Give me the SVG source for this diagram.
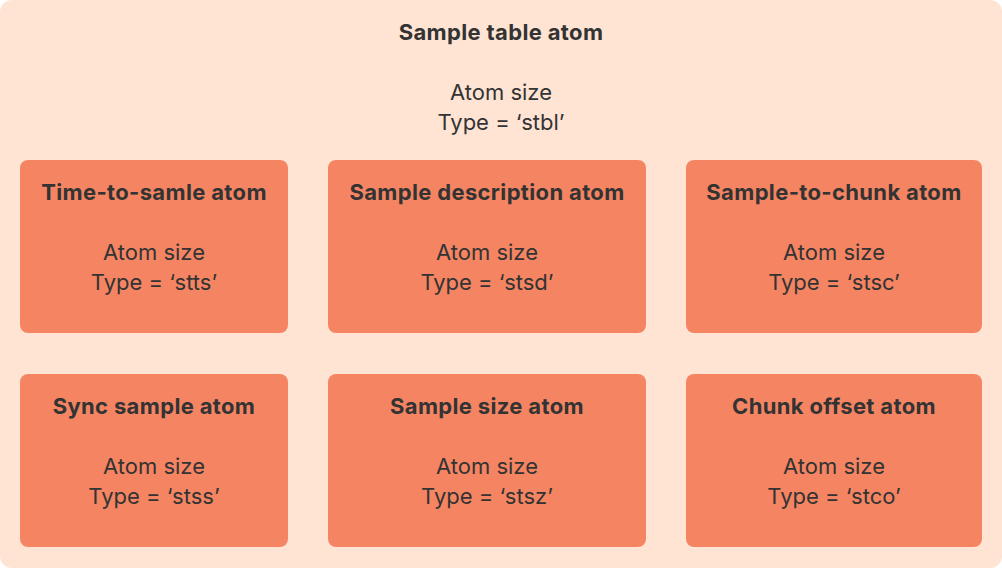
<svg xmlns="http://www.w3.org/2000/svg" width="1002" height="568" viewBox="0 0 1002 568">
<style>
.bg{fill:#FFE4D4}
.box{fill:#F58562}
text{font-family:Inter,"Noto Sans","Liberation Sans",sans-serif;font-size:22px;fill:#333333;text-anchor:middle}
.t{font-weight:700;letter-spacing:0.35px}
</style>
<rect class="bg" x="0" y="0" width="1002" height="568" rx="12"/>
<g id="stbl">
<text class="t" x="501" y="40">Sample table atom</text>
<text x="501" y="100">Atom size</text>
<text x="501" y="130">Type = ‘stbl’</text>
</g>
<g id="stts">
<rect class="box" x="20" y="160" width="268" height="173" rx="8"/>
<text class="t" x="154" y="200">Time-to-samle atom</text>
<text x="154" y="260">Atom size</text>
<text x="154" y="290">Type = ‘stts’</text>
</g>
<g id="stsd">
<rect class="box" x="328" y="160" width="318" height="173" rx="8"/>
<text class="t" x="487" y="200">Sample description atom</text>
<text x="487" y="260">Atom size</text>
<text x="487" y="290">Type = ‘stsd’</text>
</g>
<g id="stsc">
<rect class="box" x="686" y="160" width="296" height="173" rx="8"/>
<text class="t" x="834" y="200">Sample-to-chunk atom</text>
<text x="834" y="260">Atom size</text>
<text x="834" y="290">Type = ‘stsc’</text>
</g>
<g id="stss">
<rect class="box" x="20" y="374" width="268" height="173" rx="8"/>
<text class="t" x="154" y="414">Sync sample atom</text>
<text x="154" y="474">Atom size</text>
<text x="154" y="504">Type = ‘stss’</text>
</g>
<g id="stsz">
<rect class="box" x="328" y="374" width="318" height="173" rx="8"/>
<text class="t" x="487" y="414">Sample size atom</text>
<text x="487" y="474">Atom size</text>
<text x="487" y="504">Type = ‘stsz’</text>
</g>
<g id="stco">
<rect class="box" x="686" y="374" width="296" height="173" rx="8"/>
<text class="t" x="834" y="414">Chunk offset atom</text>
<text x="834" y="474">Atom size</text>
<text x="834" y="504">Type = ‘stco’</text>
</g>
<g id="connectors"/>
</svg>
